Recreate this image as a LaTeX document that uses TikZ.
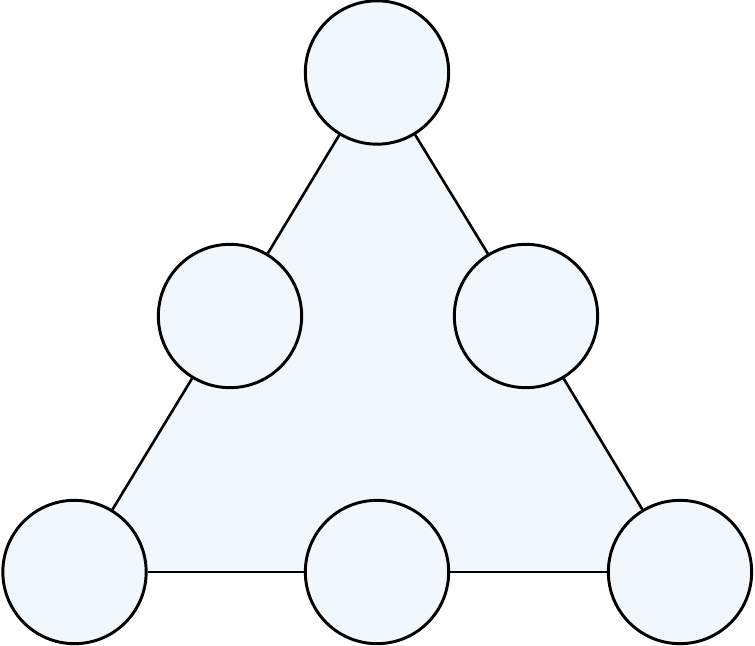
\documentclass[tikz,border=0pt]{standalone}
\definecolor{paleblue}{RGB}{240,247,253}
\begin{document}
\begin{tikzpicture}[x=0.03cm,y=-0.03cm,
    ball/.style={draw,shape=circle,fill=paleblue,line width=2.5pt,minimum size=4.3cm,inner sep=0pt},
    side/.style={line width=2.2pt}]
    \useasboundingbox (0,0) rectangle (755,646);
		    	\coordinate (CT) at (377,72.5);
		    	\coordinate (CL) at (74.5,572);
		    	\coordinate (CR) at (680,572);
		    	\fill[paleblue] (CT)--(CL)--(CR)--cycle;

		    	\node[ball] (TA) at (CT) {};
		    	\node[ball] (TB) at (230,316) {};
		    	\node[ball] (TC) at (526,316) {};
		    	\node[ball] (TD) at (CL) {};
		    	\node[ball] (TE) at (377,572) {};
		    	\node[ball] (TF) at (CR) {};

		    	\draw[side] (TA)--(TB);
		    	\draw[side] (TB)--(TD);
		    	\draw[side] (TD)--(TE);
		    	\draw[side] (TE)--(TF);
		    	\draw[side] (TF)--(TC);
		    	\draw[side] (TC)--(TA);
		    \end{tikzpicture}
\end{document}
